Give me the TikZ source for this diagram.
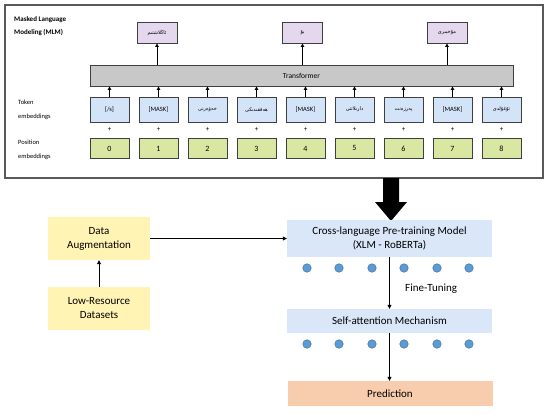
\documentclass[tikz,border=0pt]{standalone}
\usepackage{fontspec}
\setmainfont{Carlito}
\newfontfamily\arabicfont[Script=Arabic]{DejaVu Sans}
\TeXXeTstate=1
\usetikzlibrary{arrows.meta}
\definecolor{purpfill}{HTML}{E4D7EE}
\definecolor{tokfill}{HTML}{D3E3F8}
\definecolor{posfill}{HTML}{D8E8A2}
\definecolor{barfill}{HTML}{C8C8C8}
\definecolor{boxline}{HTML}{3F3F3F}
\definecolor{framecol}{HTML}{595959}
\definecolor{bluefill}{HTML}{DAE7F8}
\definecolor{yelfill}{HTML}{FFF4B3}
\definecolor{orfill}{HTML}{F8CDAE}
\definecolor{dotfill}{HTML}{5B9BD5}
\definecolor{dotline}{HTML}{41719C}
\newcommand\uyg[1]{{\arabicfont\fontsize{5}{6}\selectfont\beginR #1\endR}}
\tikzset{
  frm/.style={draw=framecol, line width=1.4pt},
  purpbox/.style={draw=boxline, line width=0.9pt, fill=purpfill, minimum width=40pt, minimum height=21pt, inner sep=0pt},
  tokbox/.style={draw=boxline, line width=0.9pt, fill=tokfill, minimum width=39pt, minimum height=25pt, inner sep=0pt, font=\fontsize{6.5}{7}\selectfont},
  posbox/.style={draw=boxline, line width=0.9pt, fill=posfill, minimum width=39pt, minimum height=20pt, inner sep=0pt, font=\fontsize{8}{9}\selectfont},
  barbox/.style={draw=boxline, line width=0.9pt, fill=barfill, minimum width=423pt, minimum height=21pt, inner sep=0pt, font=\fontsize{7.5}{8}\selectfont},
  lbl/.style={anchor=west, align=left, inner sep=0pt, font=\fontsize{6.5}{14}\selectfont},
  plus/.style={inner sep=0pt, font=\fontsize{7}{8}\selectfont},
  arr/.style={-{Triangle[length=3.5pt,width=3.5pt]}, line width=0.9pt, draw=black},
  arrb/.style={-{Triangle[length=4pt,width=4pt]}, line width=0.8pt, draw=black},
  flowbox/.style={minimum width=205pt, inner sep=0pt, align=center, font=\fontsize{11}{14}\selectfont},
  sidebox/.style={fill=yelfill, minimum width=102pt, minimum height=43pt, inner sep=0pt, align=center, font=\fontsize{11}{14}\selectfont},
  dotn/.style={circle, fill=dotfill, draw=dotline, line width=0.5pt, minimum size=8.5pt, inner sep=0pt},
}
\begin{document}
\begin{tikzpicture}[x=1pt,y=-1pt]
\useasboundingbox (0,0) rectangle (550,415);
% top frame
\draw[frm] (5,5) rectangle (543,178);
\node[anchor=north west, align=left, inner sep=0pt, font=\bfseries\fontsize{7}{13}\selectfont] (mlm) at (14,16) {Masked Language\\Modeling (MLM)};
% transformer bar
\node[barbox] (bar) at (301.5,75.5) {Transformer};
% output boxes
\node[purpbox] (o1) at (157,32.5) {\uyg{ئاڭلاشتىم}};
\node[purpbox] (o2) at (302.5,32.5) {\uyg{بۇ}};
\node[purpbox] (o3) at (447,32.5) {\uyg{مۇخبىرى}};
\foreach \o in {o1,o2,o3} \draw[arr] (bar.north -| \o) -- (\o.south);
% labels
\node[lbl] (tl) at (18,110) {Token\\embeddings};
\node[lbl] (pl) at (18,150) {Position\\embeddings};
% tokens
\node[tokbox] (t0) at (109.5,109.5) {[/s]};
\node[tokbox] (t1) at (158.5,109.5) {[MASK]};
\node[tokbox] (t2) at (207.5,109.5) {\uyg{خەۋەرنى}};
\node[tokbox] (t3) at (256.5,109.5) {\uyg{ھەققىدىكى}};
\node[tokbox] (t4) at (305.5,109.5) {[MASK]};
\node[tokbox] (t5) at (354.5,109.5) {\uyg{دارىلاتتى}};
\node[tokbox] (t6) at (403.5,109.5) {\uyg{پەرزەنت}};
\node[tokbox] (t7) at (452.5,109.5) {[MASK]};
\node[tokbox] (t8) at (501.5,109.5) {\uyg{تۇغۇلدى}};
\foreach \i in {0,...,8} {
  \draw[arr] (t\i.north) -- (bar.south -| t\i);
  \node[plus, yshift=-7pt] (pl\i) at (t\i.south) {+};
  \node[posbox, yshift=-26pt] (p\i) at (t\i.south) {\i};
}
% big arrow
\fill[black] (383,178) -- (399,178) -- (399,202) -- (407,202) -- (391,221) -- (375,202) -- (383,202) -- cycle;
% lower flow
\node[flowbox, fill=bluefill, minimum height=37pt] (cl) at (389.5,238.5) {Cross-language Pre-training Model\\(XLM - RoBERTa)};
\node[flowbox, fill=bluefill, minimum height=24pt] (sa) at (389.5,321) {Self-attention Mechanism};
\node[flowbox, fill=orfill, minimum height=25pt] (pr) at (390,393.5) {Prediction};
\foreach \x [count=\k] in {307,339,372,404,437,469} {
  \node[dotn] (da\k) at (\x,268) {};
  \node[dotn] (db\k) at (\x,344) {};
}
\draw[arrb] (cl.south) -- (sa.north);
\draw[arrb] (sa.south) -- (pr.north -| sa.south);
\node[anchor=west, inner sep=0pt, font=\fontsize{11}{13}\selectfont] (ft) at (405,289) {Fine-Tuning};
\node[sidebox] (dau) at (99,238.5) {Data\\Augmentation};
\node[sidebox] (lr) at (99,308.5) {Low-Resource\\Datasets};
\draw[arrb] (dau.east) -- (cl.west);
\draw[arrb] (lr.north) -- (dau.south);
\end{tikzpicture}
\end{document}
